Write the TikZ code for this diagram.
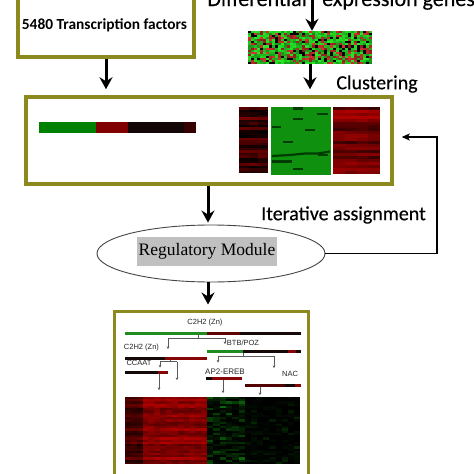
\documentclass[tikz,border=0pt]{standalone}
\usepackage{fontspec}
\usetikzlibrary{arrows.meta,shapes.geometric,calc}
\newfontfamily\carl{Carlito}
\newfontfamily\carlb[FakeBold=0.35]{Carlito}
\newfontfamily\lsans{Liberation Sans}
\newfontfamily\lserif{Liberation Serif}
\definecolor{olivebd}{RGB}{140,138,30}
\definecolor{hgreen}{RGB}{40,240,40}
\definecolor{hred}{RGB}{225,50,50}
\definecolor{mgreen}{RGB}{15,145,15}
\definecolor{mdkgreen}{RGB}{0,60,0}
\definecolor{mred}{RGB}{175,0,0}
\definecolor{bgreen}{RGB}{30,140,30}
\definecolor{bred}{RGB}{135,5,5}
\definecolor{bblack}{RGB}{20,8,8}
\definecolor{regGray}{RGB}{192,192,192}
\definecolor{brkgray}{RGB}{90,90,90}
\definecolor{barG}{RGB}{0,128,0}
\definecolor{barR}{RGB}{128,0,0}
\definecolor{barK}{RGB}{18,6,6}
\definecolor{barD}{RGB}{55,0,0}
\newcommand\mkseg[4]{\fill[#4] (#1,#3-1.5) rectangle (#2,#3+1.5);}
\begin{document}
\begin{tikzpicture}[x=1pt,y=-1pt,
  obox/.style={draw=olivebd,line width=3.5pt,fill=white,inner sep=0},
  bigarrow/.style={line width=3pt,-{Stealth[length=12pt,width=13pt,inset=4pt]}},
  fbarrow/.style={line width=1.8pt,-{Stealth[length=8pt,width=7pt,inset=2pt]}},
  brk/.style={draw=brkgray,line width=0.7pt},
  brka/.style={brk,-{Stealth[length=2.6pt,width=2.6pt]}},
  small/.style={font=\lsans\fontsize{7.5}{9}\selectfont,text=black!85,inner sep=0},
  bigtext/.style={font=\carlb\fontsize{20}{24}\selectfont,inner sep=0}]
\useasboundingbox (0,0) rectangle (474,474);
\clip (0,0) rectangle (474,474);

% ---------- top-left box
\node[obox,minimum width=176pt,minimum height=90pt] (tf) at (106,12) {};
\node[font=\carl\bfseries\fontsize{15.4}{18}\selectfont,inner sep=0] (tftext) at (104.5,25) {5480 Transcription factors};

% ---------- differential expression genes
\node[anchor=base east,font=\carlb\fontsize{22}{26}\selectfont,inner sep=0] (dif1) at (307,6) {Differential};
\node[anchor=base west,font=\carlb\fontsize{22}{26}\selectfont,inner sep=0] (dif2) at (322,6) {expression genes};

% small heatmap
\node[minimum width=124pt,minimum height=33pt,inner sep=0] (hm) at (310,47.5) {};
\pgfmathsetseed{7}
\foreach \i in {0,...,40}{
  \foreach \j in {0,...,15}{
    \pgfmathsetmacro\r{rnd}
    \pgfmathsetmacro\s{int(60+40*rnd)}
    \ifdim\r pt<0.56pt \def\cc{hgreen}\else\ifdim\r pt<0.84pt \def\cc{hred}\else\def\cc{black}\fi\fi
    \fill[\cc!\s!black] (248+3.025*\i,31+2.0625*\j) rectangle ++(3.025,2.0625);
  }
}
\coordinate (dtop) at (312,-3);
\draw[bigarrow] (dtop) -- (dtop |- hm.north);

\node[bigtext] (clus) at (377,84) {Clustering};

% ---------- middle box
\node[obox,minimum width=366pt,minimum height=87pt] (mid) at (209,140.5) {};
\draw[bigarrow,shorten >=6pt] (tf.south) -- (tf.south |- mid.north);
\draw[bigarrow,shorten >=6pt] (hm.south) -- (hm.south |- mid.north);

% bar
\fill[barG] (39,122) rectangle (96,133);
\fill[barR] (96,122) rectangle (128,133);
\fill[barK] (128,122) rectangle (184,133);
\fill[barD] (184,122) rectangle (196,133);

% heatmap 1 (black/red)
\pgfmathsetseed{11}
\foreach \j in {0,...,25}{
  \pgfmathsetmacro\rb{rnd}
  \foreach \i in {0,...,2}{
    \pgfmathsetmacro\s{int(min(90,75*\rb*\rb+20*rnd))}
    \fill[mred!\s!black] (239+9.67*\i,107+2.55*\j) rectangle ++(9.67,2.55);
  }
}
% heatmap 2 (green)
\fill[mgreen] (271,107) rectangle (331,175);
\foreach \xa/\xb/\yy in {293/303/108.5,317/328/114,293/303/119,272/281/127,305/315/130,283/293/142,318/328/155,272/292/161.5,293/303/169}{
  \draw[mdkgreen,line width=2.4pt] (\xa,\yy) -- (\xb,\yy);
}
\draw[mdkgreen,line width=2.2pt] (272,156) -- (290,155) -- (305,153.5) -- (318,153.5) -- (330,151.5);
% heatmap 3 (red)
\pgfmathsetseed{23}
\foreach \j in {0,...,21}{
  \pgfmathsetmacro\rb{rnd}
  \foreach \i in {0,...,3}{
    \pgfmathsetmacro\s{int(min(100,30+60*\rb+20*rnd))}
    \fill[mred!\s!black] (333+11.75*\i,107+3.05*\j) rectangle ++(11.75,3.05);
  }
}

% ---------- regulatory module
\node[ellipse,draw=gray!55!black,line width=0.9pt,fill=white,minimum width=228pt,minimum height=57pt,inner sep=0] (reg) at (211,253.5) {};
\node[fill=regGray,minimum width=140pt,minimum height=29pt,inner sep=0,font=\lserif\fontsize{17.5}{20}\selectfont] (regtext) at (207,251.5) {Regulatory Module};
\coordinate (ax) at (208,0);
\draw[bigarrow,shorten >=2pt] (mid.south -| ax) -- (reg.north -| ax);

\node[bigtext] (iter) at (343.5,215) {Iterative assignment};

\coordinate (fbx) at (437,0);
\draw[fbarrow,shorten >=8pt] (reg.east) -- (reg.east -| fbx) |- ([yshift=3.5pt]mid.east);

% ---------- bottom box
\node[draw=olivebd,line width=3pt,fill=white,minimum width=194pt,minimum height=180pt,inner sep=0] (bot) at (211,401) {};
\draw[bigarrow,shorten >=5pt] (reg.south -| ax) -- (bot.north -| ax);

% labels
\node[small] (l1) at (205,323) {C2H2 (Zn)};
\node[small] (l2) at (141.5,348) {C2H2 (Zn)};
\node[small] (l3) at (243,343) {BTB/POZ};
\node[small] (l4) at (139,363) {CCAAT};
\node[small,font=\lsans\fontsize{8}{9}\selectfont] (l5) at (225,372) {AP2-EREB};
\node[small] (l6) at (290,374) {NAC};

% bars
\mkseg{125}{207}{333}{bgreen}
\mkseg{207}{240}{333}{bred!70!black}
\mkseg{240}{301}{333}{bblack}
\mkseg{125}{165}{358}{bblack}
\mkseg{165}{207}{358}{bred}
\mkseg{207}{243}{351}{bgreen}
\mkseg{243}{288}{351}{bblack}
\mkseg{288}{296}{351}{bred}
\mkseg{296}{301}{351}{bblack}
\mkseg{125}{158}{372}{bblack}
\mkseg{158}{168}{372}{bred}
\mkseg{206}{212}{378}{bblack}
\mkseg{212}{242}{378}{bred}
\mkseg{245}{285}{385}{bred!60!black}
\mkseg{285}{295}{385}{bblack}
\mkseg{295}{301}{385}{bred}

% brackets
\draw[brk] (198,334.5) -- (198,338);
\draw[brk] (168,338) -- (225,338);
\draw[brka] (168,338) -- (168,349);
\draw[brka] (225,338) -- (225,344);
\draw[brk] (243,352.5) -- (243,356);
\draw[brk] (218,356) -- (274,356);
\draw[brka] (218,356) -- (218,362.5);
\draw[brka] (274,356) -- (274,368);
\draw[brk] (170,359.5) -- (170,361.5);
\draw[brk] (160,361.5) -- (177,361.5);
\draw[brka] (160,361.5) -- (160,367.5);
\draw[brka] (177,361.5) -- (177,380);
\draw[brka] (159,373.5) -- (159,390);
\draw[brka] (223,379.5) -- (223,393);
\draw[brka] (260,386.5) -- (260,395);

% bottom heatmap
\pgfmathsetseed{31}
\foreach \j in {0,...,29}{
  \pgfmathsetmacro\rb{rnd}
  \foreach \i in {0,...,13}{
    \pgfmathsetmacro\s{int(\i<3 ? 10+40*\rb+20*rnd : min(100,45+40*\rb+25*rnd))}
    \fill[mred!\s!black] (125+5.86*\i,397+2.24*\j) rectangle ++(5.86,2.24);
  }
  \foreach \i in {0,...,5}{
    \pgfmathsetmacro\s{int(75*rnd*rnd)}
    \fill[mgreen!\s!black] (207+6.34*\i,397+2.24*\j) rectangle ++(6.34,2.24);
  }
  \foreach \i in {0,...,8}{
    \pgfmathsetmacro\s{int(40*rnd*rnd*rnd)}
    \fill[mgreen!\s!black] (245+6.12*\i,397+2.24*\j) rectangle ++(6.12,2.24);
  }
}
\end{tikzpicture}
\end{document}
